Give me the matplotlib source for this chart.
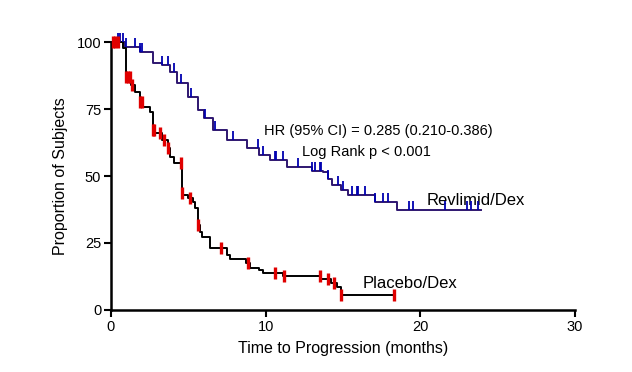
import numpy as np
import matplotlib
matplotlib.use("Agg")
import matplotlib.pyplot as plt

plt.rcParams["font.family"] = ["Liberation Sans", "DejaVu Sans"]

# Kaplan-Meier steps (time in months, % progression-free after the step)
rev_times = [0, 0.9, 1.9, 2.7, 3.3, 3.8, 4.3, 5.0, 5.6, 6.0, 6.6, 7.5, 8.8, 9.6,
             10.3, 11.4, 13.0, 13.7, 14.0, 14.3, 14.9, 15.3, 17.1, 18.5, 23.9]
rev_surv = [100, 98, 96.4, 92, 91.4, 89, 84.6, 79.6, 74.6, 71.6, 67, 63.4, 60.4, 57.8,
            56, 53.5, 52, 51.6, 49, 46.6, 44.8, 43, 40.4, 37.3, 37.3]
rev_censor = [0.45, 0.6, 0.8, 1.0, 1.55, 1.9, 2.0, 3.3, 3.7, 4.1, 4.5, 5.2, 6.1, 6.7,
              7.9, 9.5, 9.8, 10.6, 10.7, 11.1, 12.1, 13.0, 13.2, 13.5, 13.6, 14.0,
              14.7, 15.0, 15.6, 15.9, 16.0, 16.4, 17.1, 17.6, 17.9, 19.3, 19.5,
              21.6, 23.0, 23.3, 23.7]

pla_times = [0, 0.8, 0.97, 1.3, 1.55, 1.9, 2.1, 2.5, 2.7, 2.85, 3.3, 3.7, 3.8, 4.1,
             4.6, 4.65, 5.0, 5.3, 5.45, 5.6, 5.75, 5.9, 6.4, 7.5, 7.7, 8.7, 9.0,
             9.6, 9.8, 11.1, 13.6, 14.2, 14.6, 14.9, 18.3]
pla_surv = [100, 97.7, 87, 84, 81.5, 77.6, 75.7, 74, 67, 66, 63.4, 60.4, 57, 55,
            43.6, 43, 41.8, 40.3, 38, 31.7, 29, 27.2, 23, 20.5, 19, 17.5, 15.7,
            15, 13.8, 12.7, 11.6, 10.0, 8.6, 5.6, 5.6]
pla_censor = [0.1, 0.25, 0.45, 1.0, 1.1, 1.2, 1.35, 1.9, 2.0, 2.7, 2.8, 3.2, 3.4,
              3.7, 4.55, 4.62, 5.1, 5.6, 7.1, 8.85, 10.6, 11.2, 13.5, 14.0, 14.4,
              14.9, 18.3]


def step_value(times, surv, t):
    idx = np.searchsorted(times, t, side="right") - 1
    return np.asarray(surv)[idx]


fig = plt.figure(figsize=(6.32, 3.72), dpi=100)
ax = fig.add_axes([0.1756, 0.1667, 0.7342, 0.7203])

ax.step(rev_times, rev_surv, where="post", color="#2e1670", lw=1.4, clip_on=False, zorder=3)
ax.step(pla_times, pla_surv, where="post", color="black", lw=1.4, clip_on=False, zorder=3)

ax.plot(rev_censor, step_value(rev_times, rev_surv, rev_censor), ls="none",
        marker=2, ms=6.5, mew=1.3, color="#0000b0", clip_on=False, zorder=4)
ax.plot(pla_censor, step_value(pla_times, pla_surv, pla_censor), ls="none",
        marker="|", ms=8, mew=2.4, color="#e00000", clip_on=False, zorder=4)

ax.text(17.3, 66.8, "HR (95% CI) = 0.285 (0.210-0.386)", fontsize=10.5, ha="center", va="center")
ax.text(16.5, 59, "Log Rank p < 0.001", fontsize=10.5, ha="center", va="center")
ax.text(20.4, 41, "Revlimid/Dex", fontsize=12, ha="left", va="center")
ax.text(16.3, 9.8, "Placebo/Dex", fontsize=12, ha="left", va="center")

ax.set_xlim(0, 30)
ax.set_ylim(0, 100)
ax.set_xticks([0, 10, 20, 30])
ax.set_yticks([0, 25, 50, 75, 100])
ax.set_xlabel("Time to Progression (months)", fontsize=11.5, labelpad=5)
ax.set_ylabel("Proportion of Subjects", fontsize=11.5, labelpad=6)

for side in ("top", "right"):
    ax.spines[side].set_visible(False)
for side in ("left", "bottom"):
    ax.spines[side].set_linewidth(1.8)
ax.tick_params(direction="out", length=5, width=1.5, labelsize=10.5, pad=2)

fig.savefig("out.png", dpi=100)
